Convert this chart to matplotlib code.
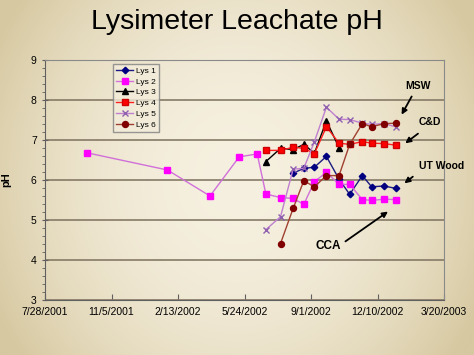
import numpy as np
import pandas as pd
import matplotlib
matplotlib.use("Agg")
import matplotlib.pyplot as plt
from matplotlib.ticker import MultipleLocator

plt.rcParams['font.family'] = ['Liberation Sans', 'DejaVu Sans']

# --- data ---
lys1_dates = ["2002-08-05", "2002-08-21", "2002-09-06", "2002-09-24", "2002-10-13",
              "2002-10-29", "2002-11-17", "2002-12-01", "2002-12-20", "2003-01-06"]
lys1_ph = [6.17, 6.29, 6.32, 6.59, 6.02, 5.64, 6.11, 5.83, 5.85, 5.79]

lys2_dates = ["2001-09-29", "2002-01-28", "2002-04-02", "2002-05-16", "2002-06-12",
              "2002-06-25", "2002-07-17", "2002-08-05", "2002-08-21", "2002-09-06",
              "2002-09-24", "2002-10-13", "2002-10-29", "2002-11-17", "2002-12-01",
              "2002-12-20", "2003-01-06"]
lys2_ph = [6.68, 6.25, 5.60, 6.58, 6.65, 5.65, 5.56, 5.54, 5.39, 5.96,
           6.19, 5.89, 5.89, 5.51, 5.49, 5.52, 5.51]

lys3_dates = ["2002-06-25", "2002-07-17", "2002-08-05", "2002-08-21", "2002-09-06",
              "2002-09-24", "2002-10-13"]
lys3_ph = [6.46, 6.79, 6.76, 6.89, 6.67, 7.48, 6.81]

lys4_dates = ["2002-06-25", "2002-07-17", "2002-08-05", "2002-08-21", "2002-09-06",
              "2002-09-24", "2002-10-13", "2002-10-29", "2002-11-17", "2002-12-01",
              "2002-12-20", "2003-01-06"]
lys4_ph = [6.74, 6.74, 6.82, 6.79, 6.66, 7.33, 6.92, 6.89, 6.96, 6.92, 6.91, 6.87]

lys5_dates = lys4_dates
lys5_ph = [4.76, 5.08, 6.27, 6.29, 6.96, 7.82, 7.52, 7.51, 7.42, 7.39, 7.41, 7.33]

lys6_dates = ["2002-07-17", "2002-08-05", "2002-08-21", "2002-09-06", "2002-09-24",
              "2002-10-13", "2002-10-29", "2002-11-17", "2002-12-01", "2002-12-20",
              "2003-01-06"]
lys6_ph = [4.41, 5.29, 5.98, 5.83, 6.11, 6.11, 6.89, 7.41, 7.33, 7.41, 7.42]

tick_dates = ["2001-07-28", "2001-11-05", "2002-02-13", "2002-05-24",
              "2002-09-01", "2002-12-10", "2003-03-20"]
tick_labels = ["7/28/2001", "11/5/2001", "2/13/2002", "5/24/2002",
               "9/1/2002", "12/10/2002", "3/20/2003"]

series = [
    ("Lys 1", lys1_dates, lys1_ph, dict(color="#1a1a80", marker="D", ms=3.3, mfc="#000080", mec="#000080")),
    ("Lys 2", lys2_dates, lys2_ph, dict(color="#d070d8", marker="s", ms=4.3, mfc="#ff00ff", mec="#ff00ff")),
    ("Lys 3", lys3_dates, lys3_ph, dict(color="#000000", marker="^", ms=4.3, mfc="#000000", mec="#000000")),
    ("Lys 4", lys4_dates, lys4_ph, dict(color="#ff2020", marker="s", ms=4.3, mfc="#ff0000", mec="#cc0000")),
    ("Lys 5", lys5_dates, lys5_ph, dict(color="#c080d0", marker="x", ms=4, mfc="#9060b0", mec="#9060b0", mew=1)),
    ("Lys 6", lys6_dates, lys6_ph, dict(color="#a04030", marker="o", ms=4.3, mfc="#800000", mec="#800000")),
]

fig = plt.figure(figsize=(4.74, 3.55), dpi=100)

# beige gradient background
bg = fig.add_axes([0, 0, 1, 1], zorder=-10)
xx, yy = np.meshgrid(np.linspace(-1, 1, 200), np.linspace(-1, 1, 150))
r = np.clip(0.75 * xx**2 + 0.35 * yy**2, 0, 1)
center = np.array([246, 240, 224]) / 255
edge = np.array([214, 200, 160]) / 255
img = center[None, None, :] + (edge - center)[None, None, :] * r[..., None]
bg.imshow(img, aspect="auto", extent=[0, 1, 0, 1])
bg.axis("off")

ax = fig.add_axes([0.095, 0.155, 0.842, 0.676])
ax.set_facecolor("none")

for name, d, v, st in series:
    ax.plot(pd.to_datetime(d), v, lw=1, label=name, **st)

ticks = pd.to_datetime(tick_dates)
ax.set_xlim(ticks[0], ticks[-1])
ax.set_xticks(ticks)
ax.set_xticklabels(tick_labels, fontsize=7.5)
ax.set_ylim(3, 9)
ax.yaxis.set_major_locator(MultipleLocator(1))
ax.yaxis.set_minor_locator(MultipleLocator(0.2))
ax.tick_params(axis="y", which="major", labelsize=7.5, direction="inout", length=5, color="#606060")
ax.tick_params(axis="y", which="minor", direction="out", length=2, color="#606060")
ax.tick_params(axis="x", direction="in", length=4, color="#606060", pad=5)
ax.grid(axis="y", color="#857a66", lw=1.2)
ax.set_axisbelow(True)
for s in ax.spines.values():
    s.set_color("#8a8a8a")
ax.spines["left"].set_color("#606060")
ax.spines["bottom"].set_color("#606060")
ax.set_ylabel("pH", fontsize=8, fontweight="bold", labelpad=14)

leg = ax.legend(loc="upper left", bbox_to_anchor=(0.17, 0.985), borderaxespad=0,
                fontsize=6, frameon=True, fancybox=False, handlelength=2.0,
                borderpad=0.4, labelspacing=0.35, handletextpad=0.4)
leg.get_frame().set_edgecolor("#808080")
leg.get_frame().set_facecolor("#f3ecda")

fig.text(0.5, 0.937, "Lysimeter Leachate pH", ha="center", va="center", fontsize=20.5)

# callouts
arrow = dict(arrowstyle="-|>", color="black", lw=1.3, mutation_scale=8)
notes = [
    ("MSW", (0.935, 0.89), (0.922, 0.858), (0.890, 0.762), 7.5),
    ("C&D", (0.963, 0.742), (0.940, 0.700), (0.897, 0.646), 7.5),
    ("UT Wood", (0.994, 0.558), (0.927, 0.521), (0.895, 0.479), 7.5),
    ("CCA", (0.709, 0.225), (0.747, 0.2375), (0.865, 0.375), 8.5),
]
for txt, tpos, tail, head, fs in notes:
    ax.text(*tpos, txt, transform=ax.transAxes, ha="center", va="center",
            fontsize=fs, fontweight="bold", clip_on=False)
    ax.annotate("", xy=head, xytext=tail, xycoords="axes fraction",
                textcoords="axes fraction", arrowprops=arrow)

fig.savefig("out.png", dpi=100)
